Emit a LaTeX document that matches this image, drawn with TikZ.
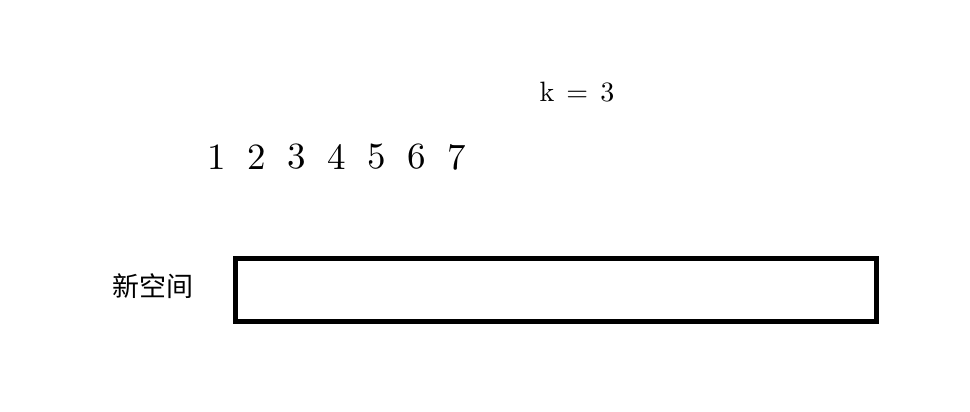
\documentclass[tikz,border=0pt]{standalone}
\usepackage{fontspec}
\usepackage{tikz}
\newfontfamily\cjk{Noto Sans CJK SC}
\newfontfamily\lmten{lmroman10-regular.otf}
\usetikzlibrary{positioning}

\begin{document}
\begin{tikzpicture}[x=1pt,y=-1pt]
    \useasboundingbox (0,0) rectangle (970,412);
    \tikzset{digit/.style={font=\lmten\fontsize{37}{37}\selectfont, inner sep=0pt}}
    \node[font=\lmten\fontsize{28}{28}\selectfont, inner sep=0pt] (k) at (577,92) {k\hspace{12pt}=\hspace{12pt}3};
    \foreach \i in {1,...,7} {
        \node[digit] (n\i) at (177+40*\i,157) {\i};
    }
    \node[font=\fontsize{27}{27}\selectfont\cjk, inner sep=0pt] (label) at (153,286) {新空间};
    \draw[line width=5pt] (235.5,258.5) rectangle (876.5,321.5);
\end{tikzpicture}
\end{document}
